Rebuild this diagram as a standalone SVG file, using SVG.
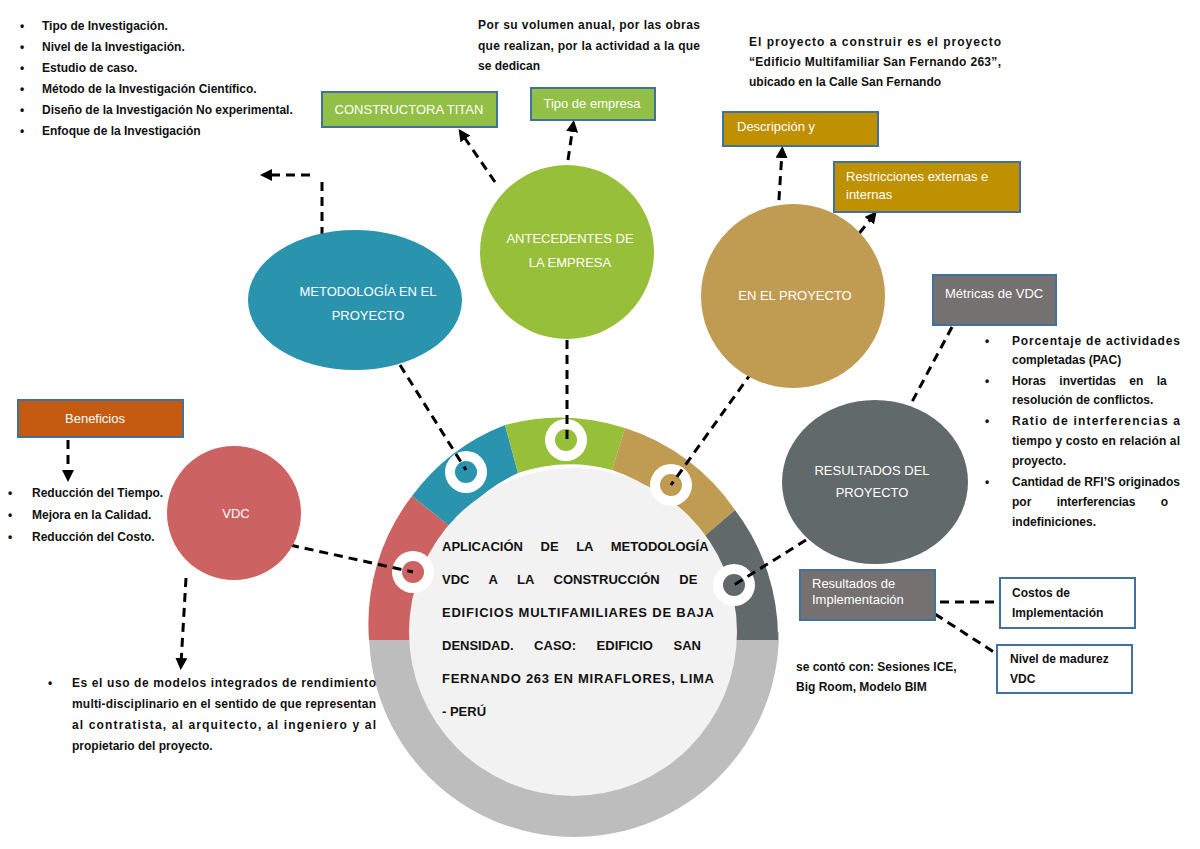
<svg xmlns="http://www.w3.org/2000/svg" width="1200" height="849" viewBox="0 0 1200 849">
<style>
text{font-family:"Liberation Sans",Arial,sans-serif}
.t{font-size:12px;font-weight:bold;fill:#111}
.w{fill:#fff;font-size:13px}
.c{stroke:#000;stroke-width:3;stroke-dasharray:9,6;fill:none}
.box{stroke:#41719c;stroke-width:2}
.j{font-size:13px;font-weight:bold;fill:#111}
</style>
<defs>
<marker id="ar" viewBox="0 0 10 10" refX="5" refY="5" markerWidth="4" markerHeight="4" orient="auto"><path d="M0,0L10,5L0,10z" fill="#000"/></marker>
</defs>
<rect width="1200" height="849" fill="#fff"/>

<g id="ring">
<path d="M369,632 A205,205 0 0,0 779,632 L734,632 A160,160 0 0,1 414,632 Z" fill="#bdbdbd"/>
<path d="M369,640 A210,210 0 0,1 412,496 L452,528 A162,162 0 0,0 412,640 Z" fill="#cd6262"/>
<path d="M412,496 A210,210 0 0,1 505,425 L518,473 A162,162 0 0,0 452,528 Z" fill="#2a93ae"/>
<path d="M505,425 A210,210 0 0,1 625,428 L612,470 A162,162 0 0,0 518,473 Z" fill="#98bf3a"/>
<path d="M625,428 A210,210 0 0,1 735,510 L700,540 A162,162 0 0,0 612,470 Z" fill="#c09b52"/>
<path d="M735,510 A210,210 0 0,1 778,640 L736,640 A162,162 0 0,0 700,540 Z" fill="#616a69"/>
<circle cx="573" cy="632" r="164" fill="#f2f2f2"/>
<circle cx="413" cy="572" r="21" fill="#fff"/><circle cx="413" cy="572" r="11" fill="#cd6262"/>
<circle cx="466" cy="472" r="21" fill="#fff"/><circle cx="466" cy="472" r="11" fill="#2a93ae"/>
<circle cx="566" cy="440" r="21" fill="#fff"/><circle cx="566" cy="440" r="11" fill="#98bf3a"/>
<circle cx="671" cy="485" r="21" fill="#fff"/><circle cx="671" cy="485" r="11" fill="#c09b52"/>
<circle cx="734" cy="585" r="21" fill="#fff"/><circle cx="734" cy="585" r="11" fill="#616a69"/>
<g class="j">
<text x="442" y="551" word-spacing="14">APLICACIÓN DE LA METODOLOGÍA</text>
<text x="442" y="584" word-spacing="16">VDC A LA CONSTRUCCIÓN DE</text>
<text x="442" y="617" textLength="272" lengthAdjust="spacing">EDIFICIOS MULTIFAMILIARES DE BAJA</text>
<text x="442" y="650" word-spacing="17">DENSIDAD. CASO: EDIFICIO SAN</text>
<text x="442" y="683" textLength="272" lengthAdjust="spacing">FERNANDO 263 EN MIRAFLORES, LIMA</text>
<text x="442" y="716">- PERÚ</text>
</g>
</g>

<g id="connectors">
<path class="c" d="M322,236 V176"/>
<path class="c" d="M310,175 H266" marker-end="url(#ar)"/>
<path class="c" d="M400,365 L466,470"/>
<path class="c" d="M495,182 L462,134" marker-end="url(#ar)"/>
<path class="c" d="M568,160 L573,126" marker-end="url(#ar)"/>
<path class="c" d="M567,340 V440"/>
<path class="c" d="M777,230 L782,152" marker-end="url(#ar)"/>
<path class="c" d="M850,245 L873,216" marker-end="url(#ar)"/>
<path class="c" d="M752,372 L671,485"/>
<path class="c" d="M952,327 L905,415"/>
<path class="c" d="M806,540 L734,585"/>
<path class="c" d="M940,602 H995"/>
<path class="c" d="M935,614 L1000,656"/>
<path class="c" d="M68,440 V476" marker-end="url(#ar)"/>
<path class="c" d="M290,545 L413,572"/>
<path class="c" d="M186,578 L181,664" marker-end="url(#ar)"/>
</g>

<g id="metodologia"><ellipse cx="355" cy="300" rx="107" ry="70" fill="#2a93ae"/>
<text class="w" x="368" y="296" text-anchor="middle" font-size="14">METODOLOGÍA EN EL</text>
<text class="w" x="368" y="320" text-anchor="middle" font-size="14">PROYECTO</text></g>

<g id="antecedentes"><circle cx="567" cy="252" r="87" fill="#98bf3a"/>
<text class="w" x="570" y="243" text-anchor="middle" font-size="14">ANTECEDENTES DE</text>
<text class="w" x="570" y="267" text-anchor="middle" font-size="14">LA EMPRESA</text></g>

<g id="enelproyecto"><circle cx="793" cy="296" r="92" fill="#c09b52"/>
<text class="w" x="795" y="300" text-anchor="middle" font-size="14">EN EL PROYECTO</text></g>

<g id="resultados"><ellipse cx="875" cy="482" rx="93" ry="82" fill="#616a69"/>
<text class="w" x="872" y="475" text-anchor="middle" font-size="14">RESULTADOS DEL</text>
<text class="w" x="872" y="497" text-anchor="middle" font-size="14">PROYECTO</text></g>

<g id="vdc"><circle cx="234" cy="513" r="67" fill="#cd6262"/>
<text class="w" x="236" y="518" text-anchor="middle" font-size="15">VDC</text></g>

<g id="constructora"><rect class="box" x="322" y="92" width="175" height="35" fill="#92c047"/>
<text class="w" x="409" y="114" text-anchor="middle" font-size="11">CONSTRUCTORA TITAN</text></g>
<g id="tipo"><rect class="box" x="531" y="88" width="124" height="32" fill="#92c047"/>
<text class="w" x="592" y="108" text-anchor="middle" font-size="12">Tipo de empresa</text></g>
<g id="descripcion"><rect class="box" x="723" y="112" width="155" height="34" fill="#bf9000"/>
<text class="w" x="737" y="131" font-size="12">Descripción y</text></g>
<g id="restricciones"><rect class="box" x="834" y="162" width="186" height="50" fill="#bf9000"/>
<text class="w" x="846" y="181" font-size="12">Restricciones externas e</text>
<text class="w" x="846" y="199" font-size="12">internas</text></g>
<g id="metricas"><rect class="box" x="933" y="275" width="123" height="50" fill="#757171"/>
<text class="w" x="945" y="298" font-size="12">Métricas de VDC</text></g>
<g id="beneficios"><rect class="box" x="18" y="400" width="165" height="37" fill="#c55a11"/>
<text class="w" x="65" y="423" font-size="14">Beneficios</text></g>
<g id="resimpl"><rect class="box" x="800" y="570" width="135" height="50" fill="#757171"/>
<text class="w" x="812" y="588" font-size="11">Resultados de</text>
<text class="w" x="812" y="604" font-size="11">Implementación</text></g>
<g id="costos"><rect class="box" x="1000" y="578" width="135" height="50" fill="#fff"/>
<text class="t" x="1012" y="597">Costos de</text><text class="t" x="1012" y="617">Implementación</text></g>
<g id="nivel"><rect class="box" x="997" y="645" width="135" height="48" fill="#fff"/>
<text class="t" x="1010" y="663">Nivel de madurez</text><text class="t" x="1010" y="683">VDC</text></g>

<g id="texts" class="t">
<text x="20" y="30">•</text><text x="42" y="30">Tipo de Investigación.</text>
<text x="20" y="51">•</text><text x="42" y="51">Nivel de la Investigación.</text>
<text x="20" y="72">•</text><text x="42" y="72">Estudio de caso.</text>
<text x="20" y="93">•</text><text x="42" y="93">Método de la Investigación Científico.</text>
<text x="20" y="114">•</text><text x="42" y="114">Diseño de la Investigación No experimental.</text>
<text x="20" y="135">•</text><text x="42" y="135">Enfoque de la Investigación</text>
<text x="478" y="29" textLength="222" lengthAdjust="spacing">Por su volumen anual, por las obras</text>
<text x="478" y="50" textLength="222" lengthAdjust="spacing">que realizan, por la actividad a la que</text>
<text x="478" y="70">se dedican</text>
<text x="749" y="46" textLength="252" lengthAdjust="spacing">El proyecto a construir es el proyecto</text>
<text x="749" y="66" textLength="252" lengthAdjust="spacing">“Edificio Multifamiliar San Fernando 263”,</text>
<text x="749" y="86">ubicado en la Calle San Fernando</text>
<text x="985" y="345">•</text><text x="1012" y="345" textLength="168" lengthAdjust="spacing">Porcentaje de actividades</text>
<text x="1012" y="364">completadas (PAC)</text>
<text x="985" y="385">•</text><text x="1012" y="385" word-spacing="10">Horas invertidas en la</text>
<text x="1012" y="404">resolución de conflictos.</text>
<text x="985" y="425">•</text><text x="1012" y="425" textLength="168" lengthAdjust="spacing">Ratio de interferencias a</text>
<text x="1012" y="445" textLength="168" lengthAdjust="spacing">tiempo y costo en relación al</text>
<text x="1012" y="465">proyecto.</text>
<text x="985" y="486">•</text><text x="1012" y="486" textLength="168" lengthAdjust="spacing">Cantidad de RFI’S originados</text>
<text x="1012" y="506" word-spacing="22">por interferencias o</text>
<text x="1012" y="526">indefiniciones.</text>
<text x="8" y="497">•</text><text x="32" y="497">Reducción del Tiempo.</text>
<text x="8" y="519">•</text><text x="32" y="519">Mejora en la Calidad.</text>
<text x="8" y="541">•</text><text x="32" y="541">Reducción del Costo.</text>
<text x="48" y="687">•</text><text x="72" y="687" textLength="304" lengthAdjust="spacing">Es el uso de modelos integrados de rendimiento</text>
<text x="72" y="708" textLength="304" lengthAdjust="spacing">multi-disciplinario en el sentido de que representan</text>
<text x="72" y="729" textLength="304" lengthAdjust="spacing">al contratista, al arquitecto, al ingeniero y al</text>
<text x="72" y="750">propietario del proyecto.</text>
<text x="796" y="671">se contó con: Sesiones ICE,</text>
<text x="796" y="691">Big Room, Modelo BIM</text>
</g>
</svg>
